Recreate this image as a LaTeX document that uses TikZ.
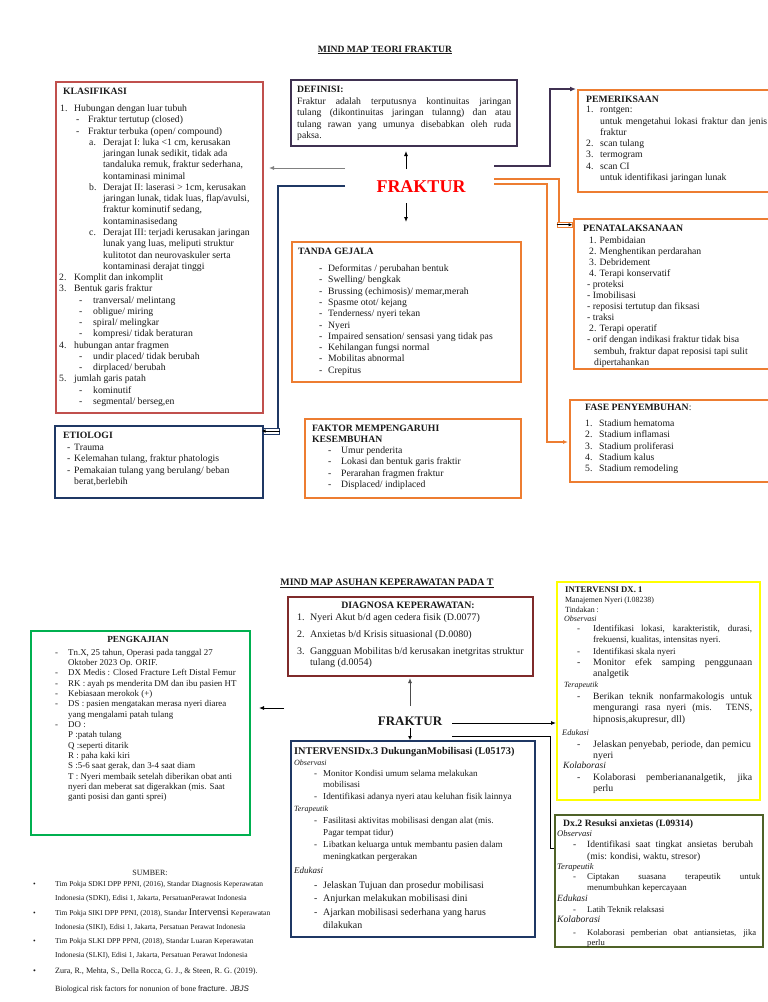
\documentclass[tikz,border=0pt]{standalone}
\usepackage{fontspec}
\setmainfont{Liberation Serif}
\setsansfont{Liberation Sans}
\usetikzlibrary{arrows.meta,fit}
\definecolor{cKlas}{HTML}{C0504D}
\definecolor{cNavy}{HTML}{1F3864}
\definecolor{cDef}{HTML}{3F3151}
\definecolor{cOr}{HTML}{ED7D31}
\definecolor{cPur}{HTML}{403152}
\definecolor{cMar}{HTML}{7F2B2B}
\definecolor{cGrn}{HTML}{00B050}
\definecolor{cYel}{HTML}{FFFF00}
\definecolor{cGray}{HTML}{808080}
\definecolor{cOlive}{HTML}{4F6228}
\definecolor{cTxt}{HTML}{1A1A1A}
\newcounter{tl}
\newcommand\curY{0}
\newcommand\stepY{0}
\newcommand\setY[2]{\xdef\curY{#1}\xdef\stepY{#2}}
\newcommand\At[1]{\xdef\curY{#1}\xdef\stepY{0}}
\newcommand\addY[1]{\pgfmathsetmacro\tmpYv{\curY+#1}\xdef\curY{\tmpYv}}
\newcommand\R[5][]{\stepcounter{tl}\node[tl,#1] (t\arabic{tl}) at (#2,\curY) {\makebox[\dimexpr #3pt-#2pt\relax][l]{#4}#5};\addY{\stepY}}
\newcommand\Q[3][]{\R[#1]{#2}{#2}{}{#3}}
\newcommand\C[3][]{\stepcounter{tl}\node[tl,anchor=base,#1] (t\arabic{tl}) at (#2,\curY) {#3};\addY{\stepY}}
\newcommand\J[2]{\makebox[#1pt][s]{#2}}
\newcommand\fsz[1]{\fontsize{#1}{#1}\selectfont}
\tikzset{
  tl/.style={anchor=base west, inner sep=0pt, text=cTxt, font=\fsz{9.7}},
  bx/.style={draw, inner sep=0pt, fit={#1}},
  tipA/.style={-{Latex[length=5pt,width=4pt]}},
  conn/.style={line width=0.9pt},
}
\begin{document}
\begin{tikzpicture}[x=1pt,y=-1pt]
\useasboundingbox (0,0) rectangle (768,1002);
\fill[white] (0,0) rectangle (768,1002);

% ================= TOP HALF =================
\node[font=\bfseries\fsz{9.6}, inner sep=0pt, text=cTxt] (title1) at (385,50) {\underline{MIND MAP TEORI FRAKTUR}};

% boxes
\node[bx={(56,82) (263,413)}, draw=cKlas, line width=1.3pt] (klas) {};
\node[bx={(55,426) (263,498)}, draw=cNavy, line width=1.3pt] (etio) {};
\node[bx={(291,80) (517,146)}, draw=cDef, line width=1.8pt] (defi) {};
\node[bx={(292,242) (521,382)}, draw=cOr, line width=1.2pt] (tanda) {};
\node[bx={(305,419) (521,498)}, draw=cOr, line width=1.2pt] (faktor) {};
\node[bx={(578,90) (790,192)}, draw=cOr, line width=1.2pt] (pemer) {};
\node[bx={(574,219) (790,369)}, draw=cOr, line width=1.2pt] (penat) {};
\node[bx={(570,400) (790,482)}, draw=cOr, line width=1.2pt] (fase) {};

\node[font=\bfseries\fsz{18}, text=red, inner sep=0pt, anchor=base] (fr1) at (421,192) {FRAKTUR};

% connectors top
\coordinate (g1) at (345,168); \coordinate (g2) at (269,168);
\draw[cGray, conn, tipA] (g1) -- (g2);
\coordinate (n1) at (345,186); \coordinate (n2) at (278,186); \coordinate (n3) at (278,428);
\draw[cNavy, line width=1.3pt] (n1) -- (n2) -- (n3);
\node[bx={(262,428) (279,434)}, draw=cNavy, line width=1pt] (etarr) {};
\draw[line width=0.8pt, -{Latex[length=4pt,width=3.5pt]}] (etarr.east) -- (etarr.west);
\coordinate (u1) at (406,169); \coordinate (u2) at (406,151);
\draw[conn, tipA] (u1) -- (u2);
\coordinate (d1) at (406,203); \coordinate (d2) at (406,222);
\draw[conn, tipA] (d1) -- (d2);
\coordinate (p1) at (494,166); \coordinate (p2) at (550,166); \coordinate (p3) at (550,89); \coordinate (p4) at (576,89);
\draw[cPur, line width=1.8pt, -{Latex[length=6pt,width=5pt]}] (p1) -- (p2) -- (p3) -- (p4);
\coordinate (o1) at (494,179); \coordinate (o2) at (559,179); \coordinate (o3) at (559,222);
\draw[cOr, line width=1.2pt] (o1) -- (o2) -- (o3);
\node[bx={(557,222) (572,227.5)}, draw=cOr, line width=1pt] (ptarr) {};
\draw[line width=0.8pt, -{Latex[length=4pt,width=3.5pt]}] (ptarr.west) -- (ptarr.east);
\coordinate (q1) at (494,184); \coordinate (q2) at (547,184); \coordinate (q3) at (547,442); \coordinate (q4) at (568,442);
\draw[cOr, line width=1.2pt, tipA] (q1) -- (q2) -- (q3) -- (q4);

% KLASIFIKASI
\At{94.5}\Q{63}{\textbf{KLASIFIKASI}}
\setY{111.5}{11.27}
\R{60}{74}{1.}{Hubungan dengan luar tubuh}
\R{76}{88}{-}{Fraktur tertutup (closed)}
\R{76}{88}{-}{Fraktur terbuka (open/ compound)}
\R{89}{103}{a.}{Derajat I: luka <1 cm, kerusakan}
\Q{103}{jaringan lunak sedikit, tidak ada}
\Q{103}{tandaluka remuk, fraktur sederhana,}
\Q{103}{kontaminasi minimal}
\R{89}{103}{b.}{Derajat II: laserasi > 1cm, kerusakan}
\Q{103}{jaringan lunak, tidak luas, flap/avulsi,}
\Q{103}{fraktur kominutif sedang,}
\Q{103}{kontaminasisedang}
\R{89}{103}{c.}{Derajat III: terjadi kerusakan jaringan}
\Q{103}{lunak yang luas, meliputi struktur}
\Q{103}{kulitotot dan neurovaskuler serta}
\Q{103}{kontaminasi derajat tinggi}
\R{59}{74}{2.}{Komplit dan inkomplit}
\R{59}{74}{3.}{Bentuk garis fraktur}
\R{79}{93}{-}{tranversal/ melintang}
\R{79}{93}{-}{obligue/ miring}
\R{79}{93}{-}{spiral/ melingkar}
\R{79}{93}{-}{kompresi/ tidak beraturan}
\R{59}{74}{4.}{hubungan antar fragmen}
\R{79}{93}{-}{undir placed/ tidak berubah}
\R{79}{93}{-}{dirplaced/ berubah}
\R{59}{74}{5.}{jumlah garis patah}
\R{79}{93}{-}{kominutif}
\R{79}{93}{-}{segmental/ berseg,en}

% ETIOLOGI
\setY{438.5}{11.5}
\Q{63}{\textbf{ETIOLOGI}}
\R{67}{74}{-}{Trauma}
\R{67}{74}{-}{Kelemahan tulang, fraktur phatologis}
\R{67}{74}{-}{Pemakaian tulang yang berulang/ beban}
\Q{74}{berat,berlebih}

% DEFINISI
\setY{92.5}{11.6}
\Q{297}{\textbf{DEFINISI:}}
\Q{297}{\J{214}{Fraktur adalah terputusnya kontinuitas jaringan}}
\Q{297}{\J{214}{tulang (dikontinuitas jaringan tulanng) dan atau}}
\Q{297}{\J{214}{tulang rawan yang umunya disebabkan oleh ruda}}
\Q{297}{paksa.}

% TANDA GEJALA
\At{254.5}\Q{298}{\textbf{TANDA GEJALA}}
\setY{271.5}{11.3}
\R{319}{328}{-}{Deformitas / perubahan bentuk}
\R{319}{328}{-}{Swelling/ bengkak}
\R{319}{328}{-}{Brussing (echimosis)/ memar,merah}
\R{319}{328}{-}{Spasme otot/ kejang}
\R{319}{328}{-}{Tenderness/ nyeri tekan}
\R{319}{328}{-}{Nyeri}
\R{319}{328}{-}{Impaired sensation/ sensasi yang tidak pas}
\R{319}{328}{-}{Kehilangan fungsi normal}
\R{319}{328}{-}{Mobilitas abnormal}
\R{319}{328}{-}{Crepitus}

% FAKTOR
\setY{431.5}{11}
\Q{312}{\textbf{FAKTOR MEMPENGARUHI}}
\Q{312}{\textbf{KESEMBUHAN}}
\setY{453.5}{11.3}
\R{328}{341}{-}{Umur penderita}
\R{328}{341}{-}{Lokasi dan bentuk garis fraktir}
\R{328}{341}{-}{Perarahan fragmen fraktur}
\R{328}{341}{-}{Displaced/ indiplaced}

% PEMERIKSAAN
\At{102}\Q{586}{\textbf{PEMERIKSAAN}}
\setY{112.8}{11.25}
\R{586}{600}{1.}{rontgen:}
\Q{600}{\J{167}{untuk mengetahui lokasi fraktur dan jenis}}
\Q{600}{fraktur}
\R{586}{600}{2.}{scan tulang}
\R{586}{600}{3.}{termogram}
\R{586}{600}{4.}{scan CI}
\Q{600}{untuk identifikasi jaringan lunak}

% PENATALAKSANAAN
\At{231.5}\Q{583}{\textbf{PENATALAKSANAAN}}
\setY{243.5}{11.05}
\Q{589}{1. Pembidaian}
\Q{589}{2. Menghentikan perdarahan}
\Q{589}{3. Debridement}
\Q{589}{4. Terapi konservatif}
\Q{587}{- proteksi}
\Q{587}{- Imobilisasi}
\Q{587}{- reposisi tertutup dan fiksasi}
\Q{587}{- traksi}
\Q{589}{2. Terapi operatif}
\Q{587}{- orif dengan indikasi fraktur tidak bisa}
\Q{594}{sembuh, fraktur dapat reposisi tapi sulit}
\Q{594}{dipertahankan}

% FASE
\At{410.5}\Q{585}{\textbf{FASE PENYEMBUHAN}:}
\setY{426.5}{11.3}
\R{585}{599}{1.}{Stadium hematoma}
\R{585}{599}{2.}{Stadium inflamasi}
\R{585}{599}{3.}{Stadium proliferasi}
\R{585}{599}{4.}{Stadium kalus}
\R{585}{599}{5.}{Stadium remodeling}

% ================= BOTTOM HALF =================
\node[font=\bfseries\fsz{9.9}, inner sep=0pt, text=cTxt] (title2) at (387,583) {\underline{MIND MAP ASUHAN KEPERAWATAN PADA T}};

\node[bx={(288,597) (533,676)}, draw=cMar, line width=1.8pt] (diag) {};
\node[bx={(31,631) (250,835)}, draw=cGrn, line width=2.4pt] (peng) {};
\node[bx={(557,581.5) (760,800)}, draw=cYel, line width=2pt] (dxone) {};
\node[bx={(291,741) (535,937)}, draw=cNavy, line width=1.3pt] (dxthree) {};
\node[bx={(555,815) (763,947)}, draw=cOlive, line width=1.5pt] (dxtwo) {};

\node[font=\bfseries\fsz{13}, inner sep=0pt, anchor=base, text=cTxt] (fr2) at (410,725) {FRAKTUR};

\coordinate (a1) at (410,706); \coordinate (a2) at (410,678);
\draw[conn, black!70, tipA] (a1) -- (a2);
\coordinate (b1) at (284,708); \coordinate (b2) at (259,708);
\draw[conn, tipA] (b1) -- (b2);
\coordinate (c1) at (410,728); \coordinate (c2) at (410,740);
\draw[conn, -{Latex[length=4pt,width=4pt]}] (c1) -- (c2);
\coordinate (e1) at (452,723); \coordinate (e2) at (556,723);
\draw[conn, tipA] (e1) -- (e2);
\coordinate (h1) at (452,736); \coordinate (h2) at (550,736); \coordinate (h3) at (550,848);
\draw[conn] (h1) -- (h2) -- (h3) -- (dxtwo.west |- h3);

% DIAGNOSA
\At{608.5}\C[font=\fsz{9.8}]{408}{\textbf{DIAGNOSA KEPERAWATAN:}}
\begin{scope}[tl/.append style={font=\fsz{10}}]
\setY{620.5}{17}
\R{297}{310}{1.}{Nyeri Akut b/d agen cedera fisik (D.0077)}
\R{297}{310}{2.}{Anxietas b/d Krisis situasional (D.0080)}
\R{297}{310}{3.}{Gangguan Mobilitas b/d kerusakan inetgritas struktur}
\At{665.5}\Q{310}{tulang (d.0054)}
\end{scope}

% PENGKAJIAN
\At{642.5}\C[font=\fsz{9.3}]{138}{\textbf{PENGKAJIAN}}
\begin{scope}[tl/.append style={font=\fsz{8.9}}]
\setY{655.3}{10.33}
\R{55}{68}{-}{Tn.X, 25 tahun, Operasi pada tanggal 27}
\Q{68}{Oktober 2023 Op. ORIF.}
\R{55}{68}{-}{DX Medis : Closed Fracture Left Distal Femur}
\R{55}{68}{-}{RK : ayah ps menderita DM dan ibu pasien HT}
\R{55}{68}{-}{Kebiasaan merokok (+)}
\R{55}{68}{-}{DS : pasien mengatakan merasa nyeri diarea}
\Q{68}{yang mengalami patah tulang}
\R{55}{68}{-}{DO :}
\Q{68}{P :patah tulang}
\Q{68}{Q :seperti ditarik}
\Q{68}{R : paha kaki kiri}
\Q{68}{S :5-6 saat gerak, dan 3-4 saat diam}
\Q{68}{T : Nyeri membaik setelah diberikan obat anti}
\Q{68}{nyeri dan meberat sat digerakkan (mis. Saat}
\Q{68}{ganti posisi dan ganti sprei)}
\end{scope}

% INTERVENSI DX 1
\At{592}\Q[font=\fsz{8.7}]{565}{\textbf{INTERVENSI DX. 1}}
\At{602}\Q[font=\fsz{7.9}]{565}{Manajemen Nyeri (I.08238)}
\At{612}\Q[font=\fsz{7.9}]{565}{Tindakan :}
\At{621}\Q[font=\fsz{8}]{564}{\textit{Observasi}}
\At{631}\R[font=\fsz{9}]{577}{593}{-}{\J{159}{Identifikasi lokasi, karakteristik, durasi,}}
\At{642}\Q[font=\fsz{9}]{593}{frekuensi, kualitas, intensitas nyeri.}
\At{654}\R[font=\fsz{9}]{577}{593}{-}{Identifikasi skala nyeri}
\At{665}\R[font=\fsz{9.8}]{577}{593}{-}{\J{159}{Monitor efek samping penggunaan}}
\At{676}\Q[font=\fsz{9.8}]{593}{analgetik}
\At{687}\Q[font=\fsz{8}]{564}{\textit{Terapeutik}}
\At{699}\R[font=\fsz{9.6}]{577}{593}{-}{\J{159}{Berikan teknik nonfarmakologis untuk}}
\At{710}\Q[font=\fsz{9.6}]{593}{\J{159}{mengurangi rasa nyeri (mis. TENS,}}
\At{722}\Q[font=\fsz{9.8}]{593}{hipnosis,akupresur, dll)}
\At{735}\Q[font=\fsz{8.3}]{562}{\textit{Edukasi}}
\At{747}\R[font=\fsz{9.8}]{577}{593}{-}{Jelaskan penyebab, periode, dan pemicu}
\At{758}\Q[font=\fsz{9.8}]{593}{nyeri}
\At{768}\Q[font=\fsz{9.5}]{563}{\textit{Kolaborasi}}
\At{780}\R[font=\fsz{9.8}]{577}{593}{-}{\J{159}{Kolaborasi pemberiananalgetik, jika}}
\At{791}\Q[font=\fsz{9.8}]{593}{perlu}

% INTERVENSI DX 3
\At{754}\Q[font=\fsz{10.3}]{294}{\textbf{INTERVENSIDx.3 DukunganMobilisasi (L05173)}}
\At{765}\Q[font=\fsz{8}]{294}{\textit{Observasi}}
\At{776}\R[font=\fsz{9}]{314}{323}{-}{Monitor Kondisi umum selama melakukan}
\At{787}\Q[font=\fsz{9}]{323}{mobilisasi}
\At{799}\R[font=\fsz{9.2}]{314}{323}{-}{Identifikasi adanya nyeri atau keluhan fisik lainnya}
\At{811}\Q[font=\fsz{8}]{294}{\textit{Terapeutik}}
\At{823}\R[font=\fsz{9.1}]{314}{323}{-}{Fasilitasi aktivitas mobilisasi dengan alat (mis.}
\At{835}\Q[font=\fsz{9.1}]{323}{Pagar tempat tidur)}
\At{847}\R[font=\fsz{9.1}]{314}{323}{-}{Libatkan keluarga untuk membantu pasien dalam}
\At{859}\Q[font=\fsz{9.1}]{323}{meningkatkan pergerakan}
\At{873}\Q[font=\fsz{9}]{294}{\textit{Edukasi}}
\At{888}\R[font=\fsz{9.9}]{314}{323}{-}{Jelaskan Tujuan dan prosedur mobilisasi}
\At{901}\R[font=\fsz{9.9}]{314}{323}{-}{Anjurkan melakukan mobilisasi dini}
\At{915}\R[font=\fsz{9.9}]{314}{323}{-}{Ajarkan mobilisasi sederhana yang harus}
\At{928}\Q[font=\fsz{9.9}]{323}{dilakukan}

% DX 2
\At{826}\Q[font=\fsz{9.7}]{563}{\textbf{Dx.2 Resuksi anxietas (L09314)}}
\At{836}\Q[font=\fsz{8.6}]{557}{\textit{Observasi}}
\At{847}\R[font=\fsz{9.5}]{573}{587}{-}{\J{166}{Identifikasi saat tingkat ansietas berubah}}
\At{859}\Q[font=\fsz{9.6}]{587}{(mis: kondisi, waktu, stresor)}
\At{869}\Q[font=\fsz{8.6}]{557}{\textit{Terapeutik}}
\At{879}\R[font=\fsz{8.9}]{573}{587}{-}{\J{173}{Ciptakan suasana terapeutik untuk}}
\At{890}\Q[font=\fsz{8.9}]{587}{menumbuhkan kepercayaan}
\At{901}\Q[font=\fsz{9.5}]{557}{\textit{Edukasi}}
\At{912}\R[font=\fsz{8.7}]{573}{587}{-}{Latih Teknik relaksasi}
\At{922}\Q[font=\fsz{9.6}]{557}{\textit{Kolaborasi}}
\At{935}\R[font=\fsz{8.6}]{573}{587}{-}{\J{169}{Kolaborasi pemberian obat antiansietas, jika}}
\At{945}\Q[font=\fsz{8.6}]{587}{perlu}

% SUMBER
\At{875}\C[font=\fsz{8}]{150}{SUMBER:}
\begin{scope}[tl/.append style={font=\fsz{7.5}}]
\At{886}\R{33}{55}{•}{Tim Pokja SDKI DPP PPNI, (2016), Standar Diagnosis Keperawatan}
\At{900}\Q{55}{Indonesia (SDKI), Edisi 1, Jakarta, PersatuanPerawat Indonesia}
\At{915}\R{33}{55}{•}{Tim Pokja SIKI DPP PPNI, (2018), Standar {\fsz{10}Intervensi} Keperawatan}
\At{929}\Q{55}{Indonesia (SIKI), Edisi 1, Jakarta, Persatuan Perawat Indonesia}
\At{943}\R{33}{55}{•}{Tim Pokja SLKI DPP PPNI, (2018), Standar Luaran Keperawatan}
\At{957}\Q{55}{Indonesia (SLKI), Edisi 1, Jakarta, Persatuan Perawat Indonesia}
\At{973}\R[font=\fsz{8.1}]{33}{55}{•}{Zura, R., Mehta, S., Della Rocca, G. J., \& Steen, R. G. (2019).}
\At{991}\Q[font=\fsz{8}]{55}{Biological risk factors for nonunion of bone {\sffamily fracture. \textit{JBJS}}}
\end{scope}
\end{tikzpicture}
\end{document}
